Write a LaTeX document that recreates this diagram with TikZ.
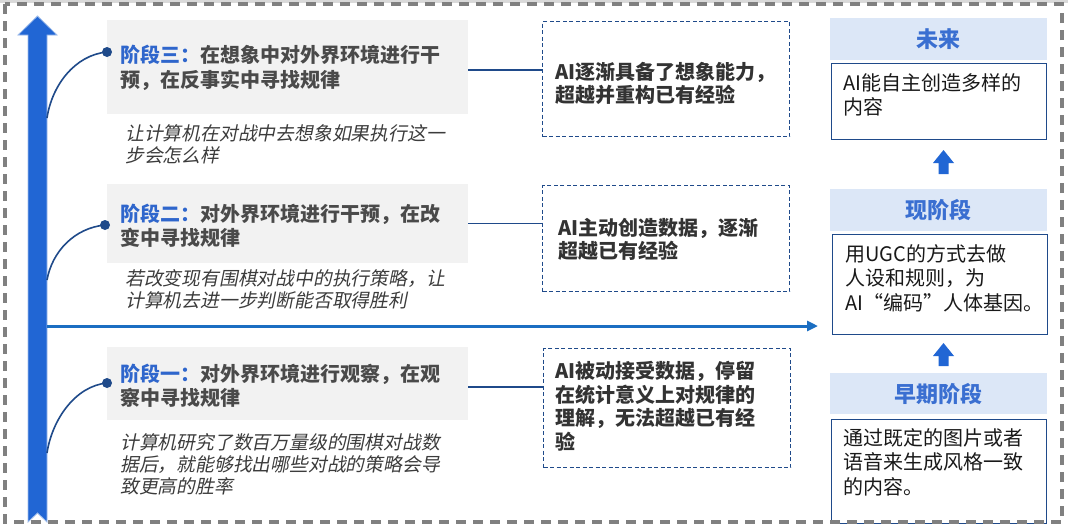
\documentclass[tikz,border=0pt]{standalone}
\usepackage{fontspec}
\setmainfont{Noto Sans CJK SC}
\newfontfamily\itcjk{Noto Sans CJK SC}[FakeSlant=0.2]
\usetikzlibrary{arrows.meta}
\definecolor{axisblue}{HTML}{2166D4}
\definecolor{axisedge}{HTML}{9FBDEB}
\definecolor{haxis}{HTML}{1B6EC2}
\definecolor{darkblue}{HTML}{1F4A8A}
\definecolor{boxgray}{HTML}{F2F2F2}
\definecolor{headfill}{HTML}{DCE7F7}
\definecolor{headblue}{HTML}{3A6FD1}
\definecolor{titleblue}{HTML}{2F66CC}
\definecolor{titlegray}{HTML}{4A4A4A}
\definecolor{descgray}{HTML}{3C3C3C}
\definecolor{notegray}{HTML}{333333}
\definecolor{framegray}{HTML}{808080}
\definecolor{bandgray}{HTML}{D9D9D9}
\begin{document}
\begin{tikzpicture}[x=1pt,y=-1pt,
  graybox/.style={fill=boxgray, draw=none, inner sep=0, anchor=north west, minimum width=361pt},
  notebox/.style={draw=darkblue, line width=1.2pt, dash pattern=on 4pt off 2.5pt, inner sep=0, anchor=north west, minimum width=247pt},
  link/.style={draw=darkblue, line width=1.5pt},
  curvelink/.style={draw=darkblue, line width=1.6pt},
  dot/.style={circle, fill=darkblue, inner sep=0, minimum size=10pt},
  titletext/.style={font=\bfseries\fontsize{20}{24.5}\selectfont, text=titlegray, align=left, inner sep=0, anchor=north west},
  desctext/.style={font=\itcjk\fontsize{18.8}{21.8}\selectfont, text=descgray, align=left, inner sep=0, anchor=north west},
  notetext/.style={font=\bfseries\fontsize{20}{23.5}\selectfont, text=notegray, align=left, inner sep=0, anchor=north west},
  headbox/.style={fill=headfill, draw=none, inner sep=0, anchor=north west, minimum width=217pt, minimum height=42pt, font=\bfseries\fontsize{22}{26}\selectfont, text=headblue},
  contentbox/.style={draw=darkblue, line width=1.3pt, fill=white, inner sep=0, anchor=north west, minimum width=215pt},
  contenttext/.style={font=\fontsize{20}{24.5}\selectfont, text=black!90, align=left, inner sep=0, anchor=north west},
  uparrow/.style={fill=axisblue, draw=none},
  frame/.style={draw=framegray, line width=3.3pt, dash pattern=on 10pt off 7pt}
]
\useasboundingbox (0,0) rectangle (1068,528);
\fill[white] (0,0) rectangle (1068,528);
\draw[bandgray, line width=3pt] (0,1.5) -- (1068,1.5);

% vertical axis arrow
\fill[axisblue, draw=axisedge, line width=0.8pt] (28,522) -- (28,35) -- (18,35) -- (37.5,16) -- (57,35) -- (47,35) -- (47,522) -- (37.5,513) -- cycle;

% horizontal arrow
\coordinate (hs) at (47,326);
\coordinate (he) at (818,326);
\draw[haxis, line width=3pt, -{Triangle[length=11pt,width=10pt]}] (hs) -- (he);

% stage boxes
\node[graybox, minimum height=94pt] (g3) at (107,20) {};
\node[graybox, minimum height=79pt] (g2) at (107,184) {};
\node[graybox, minimum height=73pt] (g1) at (107,347) {};

% note boxes
\node[notebox, minimum height=115pt] (d3) at (542,21) {};
\node[notebox, minimum height=106pt] (d2) at (542,185) {};
\node[notebox, minimum height=119pt] (d1) at (543,348) {};

% connectors
\coordinate (c3) at ([yshift=-3pt]g3.east);
\coordinate (c2) at (g2.east);
\coordinate (c1) at ([yshift=-3.5pt]g1.east);
\draw[link] (c3) -- (c3 -| d3.west);
\draw[link] (c2) -- (c2 -| d2.west);
\draw[link] (c1) -- (c1 -| d1.west);

% curves from axis to dots
\coordinate (a3) at (47,118);
\coordinate (a2) at (47,280);
\coordinate (a1) at (47,453);
\coordinate (q3) at (107,52);
\coordinate (q2) at (105,225);
\coordinate (q1) at (107,383);
\draw[curvelink] (a3) .. controls (52,85) and (75,55) .. (q3);
\draw[curvelink] (a2) .. controls (52,252) and (74,228) .. (q2);
\draw[curvelink] (a1) .. controls (52,420) and (75,386) .. (q1);
\node[dot] (p3) at (q3) {};
\node[dot] (p2) at (q2) {};
\node[dot] (p1) at (q1) {};

% stage titles
\node[titletext] (t3) at (120,45) {{\color{titleblue}阶段三：}在想象中对外界环境进行干\\预，在反事实中寻找规律};
\node[titletext] (t2) at (120,203.5) {{\color{titleblue}阶段二：}对外界环境进行干预，在改\\变中寻找规律};
\node[titletext] (t1) at (120,363.5) {{\color{titleblue}阶段一：}对外界环境进行观察，在观\\察中寻找规律};

% descriptions
\node[desctext] (e3) at (125,124.5) {让计算机在对战中去想象如果执行这一\\步会怎么样};
\node[desctext] (e2) at (125,269.5) {若改变现有围棋对战中的执行策略，让\\计算机去进一步判断能否取得胜利};
\node[desctext] (e1) at (120,433.5) {计算机研究了数百万量级的围棋对战数\\据后，就能够找出哪些对战的策略会导\\致更高的胜率};

% note texts
\node[notetext] (n3) at (555,62) {AI逐渐具备了想象能力，\\超越并重构已有经验};
\node[notetext] (n2) at (558,218) {AI主动创造数据，逐渐\\超越已有经验};
\node[notetext] (n1) at (555,361) {AI被动接受数据，停留\\在统计意义上对规律的\\理解，无法超越已有经\\验};

% right column
\node[headbox] (h3) at (830,18) {未来};
\node[contentbox, minimum height=76pt] (b3) at (831,63) {};
\node[headbox] (h2) at (830,189) {现阶段};
\node[contentbox, minimum height=100pt] (b2) at (832,234) {};
\node[headbox, minimum height=41pt] (h1) at (830,373) {早期阶段};
\node[contentbox, minimum height=104pt] (b1) at (831,419) {};

\node[contenttext] (r3) at (843,73) {AI能自主创造多样的\\内容};
\node[contenttext] (r2) at (845,244) {用UGC的方式去做\\人设和规则，为\\AI“编码”人体基因。};
\node[contenttext] (r1) at (843,428) {通过既定的图片或者\\语音来生成风格一致\\的内容。};

% small up arrows
\fill[uparrow] (943.5,150) -- ++(10.5,13) -- ++(-5.5,0) -- ++(0,11) -- ++(-10,0) -- ++(0,-11) -- ++(-5.5,0) -- cycle;
\fill[uparrow] (943.5,343) -- ++(10.5,13) -- ++(-5.5,0) -- ++(0,10) -- ++(-10,0) -- ++(0,-10) -- ++(-5.5,0) -- cycle;

% outer frame
\draw[frame] (5,4) rectangle (1062,522);
\end{tikzpicture}
\end{document}
